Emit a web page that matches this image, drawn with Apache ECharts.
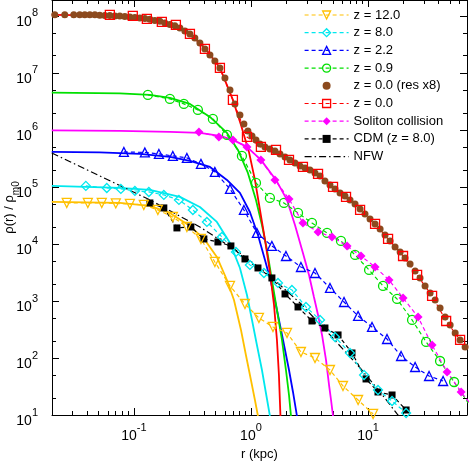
<!DOCTYPE html>
<html><head><meta charset="utf-8">
<script src="https://cdn.jsdelivr.net/npm/echarts@6/dist/echarts.min.js"></script>
<style>html,body{margin:0;padding:0;background:#fff}#c{width:469px;height:462px}</style>
</head><body><div id="c"></div>
<script>
// All values, stored as log10(r [kpc]) and log10(rho/rho_m0)
const X_MIN = 0.02, X_MAX = 70, Y_MIN = 10, Y_MAX = 1.9e8;
const xMajorTicks = [0.1, 1, 10];
const xMinorTicks = [0.03,0.04,0.05,0.06,0.07,0.08,0.09,0.2,0.3,0.4,0.5,0.6,0.7,0.8,0.9,2,3,4,5,6,7,8,9,20,30,40,50,60];
const yMajorTicks = [10,100,1e3,1e4,1e5,1e6,1e7,1e8];
const yMinorTicks = [20,50,200,500,2e3,5e3,2e4,5e4,2e5,5e5,2e6,5e6,2e7,5e7];

const legendNames = ['z = 12.0','z = 8.0','z = 2.2','z = 0.9','z = 0.0 (res x8)','z = 0.0','Soliton collision','CDM (z = 8.0)','NFW'];

// z = 12.0
const z12LogR = [-1.573,-1.393,-1.274,-1.154,-1.034,-0.915,-0.795,-0.667,-0.547,-0.427,-0.308,-0.179,-0.051,0.068,0.188,0.308,0.427,0.547,0.675,0.786,0.915,1.043];
const z12LogRho = [4.719,4.719,4.719,4.711,4.702,4.684,4.596,4.474,4.298,4.088,3.684,3.263,2.947,2.702,2.544,2.439,2.105,2.000,1.789,1.509,1.263,1.018];
const fitZ12LogR = [-1.701,-1.120,-0.863,-0.692,-0.521,-0.393,-0.291,-0.205,-0.145,-0.085,-0.043,0.000,0.034,0.060];
const fitZ12LogRho = [4.737,4.719,4.667,4.544,4.316,4.070,3.772,3.368,3.018,2.491,2.053,1.614,1.263,0.982];
// z = 8.0
const z8LogR = [-1.410,-1.231,-1.111,-0.991,-0.872,-0.744,-0.615,-0.496,-0.376,-0.248,-0.128,-0.009,0.111,0.231,0.350,0.470,0.590,0.718,0.846,0.966,1.085,1.205,1.325];
const z8LogRho = [5.018,4.982,4.965,4.930,4.912,4.860,4.772,4.596,4.386,4.123,3.860,3.632,3.491,3.316,3.193,2.895,2.667,2.368,2.088,1.702,1.439,1.246,1.035];
const fitZ8LogR = [-1.701,-1.120,-0.863,-0.607,-0.436,-0.291,-0.179,-0.094,-0.034,0.009,0.051,0.094,0.128,0.162];
const fitZ8LogRho = [5.018,4.982,4.947,4.825,4.649,4.386,4.018,3.579,3.105,2.667,2.228,1.789,1.386,0.982];
// z = 2.2
const z22LogR = [-1.085,-0.906,-0.786,-0.667,-0.547,-0.427,-0.308,-0.179,-0.060,0.051,0.179,0.299,0.427,0.547,0.675,0.795,0.915,1.034,1.162,1.282,1.402,1.521,1.641];
const z22LogRho = [5.614,5.605,5.579,5.544,5.509,5.404,5.263,4.965,4.596,4.193,3.965,3.789,3.596,3.491,3.228,2.982,2.737,2.544,2.333,2.035,1.842,1.684,1.596];
const fitZ22LogR = [-1.701,-1.291,-0.949,-0.692,-0.521,-0.350,-0.205,-0.094,-0.009,0.060,0.120,0.171,0.222,0.274,0.325,0.359,0.393];
const fitZ22LogRho = [5.614,5.605,5.579,5.526,5.456,5.351,5.123,4.895,4.561,4.158,3.719,3.333,2.842,2.316,1.789,1.404,0.982];
// z = 0.9
const z09LogR = [-0.880,-0.692,-0.573,-0.453,-0.325,-0.205,-0.077,0.043,0.162,0.282,0.402,0.521,0.650,0.769,0.889,1.009,1.128,1.248,1.376,1.496,1.615,1.735,1.855];
const z09LogRho = [6.614,6.544,6.456,6.351,6.193,5.912,5.544,5.070,4.807,4.719,4.544,4.368,4.193,4.053,3.807,3.544,3.263,3.035,2.667,2.281,1.947,1.579,1.211];
const fitZ09LogR = [-1.701,-1.120,-0.863,-0.692,-0.521,-0.350,-0.205,-0.111,-0.026,0.043,0.094,0.137,0.179,0.222,0.265,0.299,0.325,0.342];
const fitZ09LogRho = [6.654,6.640,6.614,6.561,6.456,6.228,5.947,5.649,5.246,4.772,4.333,3.895,3.368,2.842,2.316,1.789,1.351,0.982];
// z = 0.0 (res x8)
const res8LogR = [-1.675,-1.590,-1.513,-1.462,-1.419,-1.376,-1.333,-1.291,-1.248,-1.205,-1.162,-1.120,-1.077,-1.034,-0.991,-0.949,-0.906,-0.863,-0.821,-0.778,-0.735,-0.692,-0.650,-0.607,-0.564,-0.521,-0.479,-0.436,-0.393,-0.350,-0.308,-0.265,-0.222,-0.179,-0.137,-0.094,-0.060,-0.026,0.009,0.043,0.077,0.120,0.162,0.205,0.248,0.291,0.333,0.376,0.419,0.462,0.504,0.547,0.590,0.632,0.675,0.718,0.761,0.803,0.846,0.889,0.932,0.974,1.017,1.060,1.103,1.145,1.188,1.231,1.274,1.316,1.359,1.402,1.444,1.487,1.530,1.573,1.615,1.658,1.701,1.744,1.786,1.829];
const res8LogRho = [8.018,8.018,8.018,8.018,8.018,8.018,8.018,8.012,8.009,8.005,8.000,7.996,7.991,7.982,7.974,7.965,7.953,7.939,7.921,7.904,7.877,7.851,7.825,7.789,7.737,7.684,7.614,7.526,7.421,7.316,7.211,7.088,6.912,6.702,6.456,6.263,6.105,5.982,5.895,5.825,5.754,5.702,5.667,5.632,5.579,5.526,5.474,5.421,5.368,5.333,5.298,5.246,5.193,5.105,5.035,4.965,4.895,4.842,4.772,4.702,4.614,4.526,4.439,4.351,4.263,4.158,4.053,3.947,3.860,3.754,3.649,3.526,3.404,3.263,3.140,3.018,2.877,2.719,2.579,2.439,2.316,2.193];
// z = 0.0
const z0LogR = [-1.205,-1.009,-0.889,-0.761,-0.641,-0.521,-0.393,-0.265,-0.154,-0.034,0.085,0.214,0.325,0.444,0.573,0.701,0.812,0.932,1.060,1.171,1.299,1.419,1.547,1.667,1.786];
const z0LogRho = [8.018,8.000,7.947,7.895,7.842,7.684,7.421,7.088,6.526,5.877,5.702,5.649,5.474,5.351,5.228,5.000,4.825,4.596,4.351,4.088,3.789,3.456,3.088,2.649,2.316];
const fitZ0LogR = [-1.701,-1.291,-1.009,-0.761,-0.641,-0.521,-0.393,-0.265,-0.154,-0.085,-0.017,0.034,0.077,0.120,0.162,0.197,0.222,0.239,0.252];
const fitZ0LogRho = [8.018,8.009,7.991,7.895,7.825,7.684,7.439,7.088,6.526,6.088,5.614,5.123,4.596,4.070,3.509,2.930,2.316,1.702,0.982];
// Soliton collision
const collLogR = [-0.444,-0.274,-0.154,-0.034,0.085,0.205,0.325,0.444,0.573,0.692,0.821,0.940,1.060,1.179,1.299,1.427,1.547,1.675,1.795,1.915];
const collLogRho = [5.965,5.877,5.825,5.702,5.474,5.123,4.789,4.368,4.211,4.123,3.965,3.789,3.596,3.368,3.053,2.719,2.228,1.754,1.404,1.088];
const fitCollLogR = [-1.701,-1.120,-0.692,-0.436,-0.265,-0.154,-0.034,0.085,0.214,0.308,0.376,0.444,0.496,0.538,0.573,0.607,0.641,0.667,0.684,0.701];
const fitCollLogRho = [5.991,5.982,5.965,5.947,5.895,5.825,5.702,5.474,5.123,4.772,4.333,3.842,3.456,3.070,2.754,2.404,1.965,1.526,1.263,0.982];
// CDM (z = 8.0)
const cdmLogR = [-0.863,-0.744,-0.632,-0.513,-0.402,-0.282,-0.171,-0.051,0.060,0.179,0.291,0.402,0.521,0.632,0.744,0.863,0.983,1.085,1.205,1.325];
const cdmLogRho = [4.719,4.632,4.281,4.298,4.088,4.035,3.965,3.737,3.579,3.404,3.123,2.895,2.649,2.526,2.404,2.088,1.632,1.404,1.351,1.088];
// NFW
const nfwLogR = [-1.701,-1.291,-0.863,-0.436,-0.094,0.162,0.419,0.675,0.932,1.103,1.248,1.291];
const nfwLogRho = [5.596,5.193,4.772,4.298,3.842,3.439,2.965,2.404,1.825,1.404,1.018,0.912];

const FONT = '"Liberation Sans", Arial, Helvetica, sans-serif';
const ORANGE = '#ffc000', CYAN = '#00e8ee', BLUE = '#0000ff', GREEN = '#00e000',
      BROWN = '#8c4a1e', RED = '#ff0000', MAGENTA = '#ff00ff', BLACK = '#000000';

function pairs(lr, lrho) { return lr.map((v, i) => [Math.pow(10, v), Math.pow(10, lrho[i])]); }

function fit(name, lr, lrho, color) {
  return { type: 'line', name, data: pairs(lr, lrho), symbol: 'none', smooth: false,
    lineStyle: { color, width: 1.8, type: 'solid' }, itemStyle: { color },
    silent: true, animation: false, clip: true, z: 2 };
}
function dataLine(name, lr, lrho, color, symbol, size, filled, rotate) {
  return { type: 'line', name, data: pairs(lr, lrho), symbol, symbolSize: size, symbolRotate: rotate || 0,
    showSymbol: true, showAllSymbol: true,
    lineStyle: { color, width: 1.2, type: [4, 3] },
    itemStyle: filled ? { color, borderWidth: 0 } : { color: 'rgba(255,255,255,0)', borderColor: color, borderWidth: 1.3 },
    silent: true, animation: false, clip: true, z: 3 };
}

const series = [
  fit('fit12', fitZ12LogR, fitZ12LogRho, ORANGE),
  fit('fit8', fitZ8LogR, fitZ8LogRho, CYAN),
  fit('fit22', fitZ22LogR, fitZ22LogRho, BLUE),
  fit('fit09', fitZ09LogR, fitZ09LogRho, GREEN),
  fit('fit0', fitZ0LogR, fitZ0LogRho, RED),
  fit('fitColl', fitCollLogR, fitCollLogRho, MAGENTA),
  { type: 'line', name: 'NFW', data: pairs(nfwLogR, nfwLogRho), symbol: 'none',
    lineStyle: { color: BLACK, width: 1.2, type: [7, 3, 1.5, 3] },
    itemStyle: { color: 'rgba(0,0,0,0)', borderWidth: 0 }, silent: true, animation: false, clip: true, z: 3 },
  dataLine('CDM (z = 8.0)', cdmLogR, cdmLogRho, BLACK, 'rect', 7, true),
  dataLine('z = 12.0', z12LogR, z12LogRho, ORANGE, 'triangle', 9, false, 180),
  dataLine('z = 8.0', z8LogR, z8LogRho, CYAN, 'diamond', 9, false),
  dataLine('z = 2.2', z22LogR, z22LogRho, BLUE, 'triangle', 9, false),
  dataLine('z = 0.9', z09LogR, z09LogRho, GREEN, 'circle', 9, false),
  dataLine('Soliton collision', collLogR, collLogRho, MAGENTA, 'diamond', 9, true),
  { type: 'line', name: 'z = 0.0 (res x8)', data: pairs(res8LogR, res8LogRho), symbol: 'circle', symbolSize: 7,
    showSymbol: true, showAllSymbol: true, lineStyle: { width: 0, opacity: 0, color: BROWN },
    itemStyle: { color: BROWN, borderWidth: 0 }, silent: true, animation: false, clip: true, z: 3 },
  dataLine('z = 0.0', z0LogR, z0LogRho, RED, 'rect', 9, false)
];

const supRich = {
  b: { fontFamily: FONT, fontSize: 14, color: '#000', lineHeight: 21, verticalAlign: 'bottom' },
  sup: { fontFamily: FONT, fontSize: 11, color: '#000', verticalAlign: 'top' }
};
const expFmt = v => '{b|10}{sup|' + Math.round(Math.log10(v)) + '}';
const tickLine = { color: '#000', width: 1 };

function axis(kind, pos, ticks, len, showLine, extra) {
  const a = { type: 'log', logBase: 10, position: pos,
    min: kind === 'x' ? X_MIN : Y_MIN, max: kind === 'x' ? X_MAX : Y_MAX,
    splitLine: { show: false }, minorTick: { show: false }, minorSplitLine: { show: false },
    axisLine: { show: showLine, onZero: false, lineStyle: { color: '#000', width: 1 } },
    axisTick: { show: true, inside: true, length: len, customValues: ticks, lineStyle: tickLine },
    axisLabel: { show: false }, axisPointer: { show: false } };
  return Object.assign(a, extra || {});
}

const option = {
  backgroundColor: '#fff',
  animation: false,
  grid: { left: 52, right: 2, top: 0, bottom: 47, containLabel: false, outerBoundsMode: 'none' },
  legend: {
    data: legendNames.map(n => n === 'NFW' ? { name: n, itemStyle: { opacity: 0 } }
      : n === 'z = 0.0 (res x8)' ? { name: n, lineStyle: { width: 0, opacity: 0 } } : n),
    orient: 'vertical', left: 299, top: 3, itemWidth: 44, itemHeight: 10, itemGap: 3.7,
    selectedMode: false,
    lineStyle: { width: 1.2 }, itemStyle: { borderWidth: 1.3 },
    textStyle: { fontFamily: FONT, fontSize: 13, color: '#000', lineHeight: 14 }
  },
  xAxis: [
    axis('x', 'bottom', xMajorTicks, 7, true, {
      axisLabel: { show: true, customValues: xMajorTicks, formatter: expFmt, margin: 7, rich: supRich },
      name: 'r (kpc)', nameLocation: 'middle', nameGap: 33, nameMoveOverlap: false,
      nameTextStyle: { fontFamily: FONT, fontSize: 13, color: '#000' } }),
    axis('x', 'bottom', xMinorTicks, 4, false),
    axis('x', 'top', xMajorTicks, 7, true),
    axis('x', 'top', xMinorTicks, 4, false)
  ],
  yAxis: [
    axis('y', 'left', yMajorTicks, 7, true, {
      axisLabel: { show: true, customValues: yMajorTicks, formatter: expFmt, margin: 14, padding: [5, 0, 0, 0], rich: supRich },
      name: '{b|ρ(r) / ρ}{s|m0}', nameLocation: 'middle', nameGap: 31, nameMoveOverlap: false,
      nameTextStyle: { fontFamily: FONT, fontSize: 13, color: '#000',
        rich: { b: { fontFamily: FONT, fontSize: 13, color: '#000', lineHeight: 18, verticalAlign: 'top' },
                s: { fontFamily: FONT, fontSize: 10, color: '#000', verticalAlign: 'bottom' } } } }),
    axis('y', 'left', yMinorTicks, 4, false),
    axis('y', 'right', yMajorTicks, 7, true),
    axis('y', 'right', yMinorTicks, 4, false)
  ],
  series
};

const chart = echarts.init(document.getElementById('c'), null, { renderer: 'canvas' });
chart.setOption(option);
</script>
</body></html>
